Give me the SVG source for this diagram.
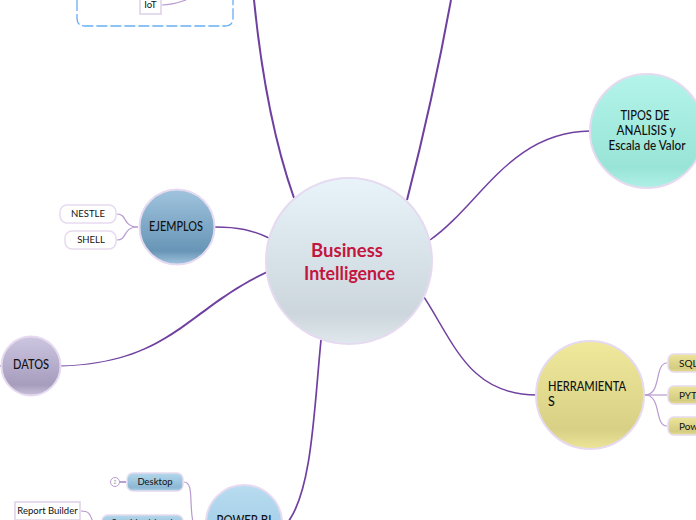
<svg xmlns="http://www.w3.org/2000/svg" width="696" height="520" viewBox="0 0 696 520">
<defs>
<linearGradient id="gC" x1="0" y1="0" x2="0" y2="1"><stop offset="0" stop-color="#e8f4fa"/><stop offset=".82" stop-color="#ccd6dc"/><stop offset="1" stop-color="#e0e8ec"/></linearGradient>
<linearGradient id="gE" x1="0" y1="0" x2="0" y2="1"><stop offset="0" stop-color="#a0c4de"/><stop offset=".82" stop-color="#6895b6"/><stop offset="1" stop-color="#a0c4de"/></linearGradient>
<linearGradient id="gD" x1="0" y1="0" x2="0" y2="1"><stop offset="0" stop-color="#cdc6e0"/><stop offset=".82" stop-color="#a69dbd"/><stop offset="1" stop-color="#c8c1da"/></linearGradient>
<linearGradient id="gH" x1="0" y1="0" x2="0" y2="1"><stop offset="0" stop-color="#f0e99c"/><stop offset=".82" stop-color="#d8d084"/><stop offset="1" stop-color="#ece59a"/></linearGradient>
<linearGradient id="gT" x1="0" y1="0" x2="0" y2="1"><stop offset="0" stop-color="#b4f4ea"/><stop offset=".82" stop-color="#98e4d6"/><stop offset="1" stop-color="#b0f0e6"/></linearGradient>
<linearGradient id="gP" x1="0" y1="0" x2="0" y2="1"><stop offset="0" stop-color="#b8dcf0"/><stop offset="1" stop-color="#98c6e2"/></linearGradient>
<linearGradient id="gB" x1="0" y1="0" x2="0" y2="1"><stop offset="0" stop-color="#b4d8ec"/><stop offset=".8" stop-color="#8cb8d4"/><stop offset="1" stop-color="#acd0e6"/></linearGradient>
<linearGradient id="gY" x1="0" y1="0" x2="0" y2="1"><stop offset="0" stop-color="#ece59a"/><stop offset=".8" stop-color="#d4cc80"/><stop offset="1" stop-color="#e6df94"/></linearGradient>
</defs>
<style>
text{font-family:Lato,"Noto Sans","Liberation Sans",sans-serif;fill:#111;text-anchor:middle}
.main{fill:none;stroke:#7040a0}
.taper{fill:#7040a0;stroke:none}
.sub{fill:none;stroke:#b79ad0;stroke-width:1.2}
.circ{stroke:#e6daf0;stroke-width:2}
.pill{fill:#fff;stroke:#e6daf0;stroke-width:1.5}
.blue{fill:url(#gB);stroke:#e6daf0;stroke-width:1.5}
.yel{fill:url(#gY);stroke:#e6daf0;stroke-width:1.5}
.t12{font-size:12.5px;font-weight:500}.t10{font-size:10px}.t9{font-size:9.5px}
.s{text-anchor:start}
.red{font-size:18.5px;font-weight:700;fill:#c4153f}
</style>
<g id="connectors">
<path class="main" stroke-width="2" d="M254 0C260 60 270 130 294 198"/>
<path class="main" stroke-width="2" d="M451 0C440 60 425 130 407 200"/>
<path class="main" stroke-width="1.500" d="M430 240C480 205 510 132 590 131"/>
<path class="main" stroke-width="1.400" d="M424 297C455 345 470 395 537 395"/>
<path class="main" stroke-width="1.400" d="M215 227C238 227 252 230 269 238"/>
<path class="taper" d="M61 365.500C170 362 185 309.500 266 271.500V273.500C187 311.500 172 363 61 366.500Z"/>
<path class="main" stroke-width="1.700" d="M321 340C314 410 312 490 288 522"/>
<path class="sub" d="M117 214C128 214 122 227 138 227"/>
<path class="sub" d="M117 240C128 240 122 227 138 227"/>
<path class="sub" d="M645 395C662 395 654 363 667 363"/>
<path class="sub" d="M645 395H667"/>
<path class="sub" d="M645 395C662 395 654 426 667 426"/>
<path class="sub" d="M184 482C194 482 189 505 193 522"/>
<path class="sub" d="M81 511C90 511 90 515 93 522"/>
<path class="sub" d="M162 5C172 5 180 2 186 0"/>
<path class="main" stroke-width="1" d="M120 482H126"/>
<path class="main" stroke-width="1" d="M0 366H2"/>
</g>
<g id="iot-group"><path fill="none" stroke="#68aef5" stroke-width="1.300" stroke-dasharray="11 3" d="M77 0V18Q77 26 85 26H225Q233 26 233 18V0"/></g>
<g id="iot"><rect x="140" y="-4" width="21" height="18" fill="#fff" stroke="#ddd0e6" stroke-width="1.500"/><text class="t9" x="150.500" y="8">IoT</text></g>
<g id="central"><circle class="circ" cx="349" cy="261" r="83" fill="url(#gC)"/><text class="red" x="347" y="257">Business</text><text class="red" x="349.500" y="280" textLength="91" lengthAdjust="spacingAndGlyphs">Intelligence</text></g>
<g id="tipos"><circle class="circ" cx="647" cy="131" r="57" fill="url(#gT)"/><text class="t12" x="645" y="120" textLength="49" lengthAdjust="spacingAndGlyphs">TIPOS DE</text><text class="t12" x="646" y="135" textLength="59" lengthAdjust="spacingAndGlyphs">ANALISIS y</text><text class="t12" x="647" y="150" textLength="77" lengthAdjust="spacingAndGlyphs">Escala de Valor</text></g>
<g id="herramientas"><circle class="circ" cx="590" cy="395" r="54" fill="url(#gH)"/><text class="t12 s" x="548" y="391" textLength="78" lengthAdjust="spacingAndGlyphs">HERRAMIENTA</text><text class="t12 s" x="548" y="406">S</text></g>
<g id="sql"><rect class="yel" x="668" y="354" width="40" height="18" rx="6"/><text class="t10 s" x="679" y="367">SQL</text></g>
<g id="pyt"><rect class="yel" x="668" y="386" width="40" height="18" rx="6"/><text class="t10 s" x="679" y="399">PYTHON</text></g>
<g id="pow"><rect class="yel" x="668" y="417" width="40" height="18" rx="6"/><text class="t10 s" x="679" y="430">Power</text></g>
<g id="ejemplos"><circle class="circ" cx="177" cy="227" r="37.500" fill="url(#gE)"/><text class="t12" x="176" y="231" textLength="54" lengthAdjust="spacingAndGlyphs">EJEMPLOS</text></g>
<g id="nestle"><rect class="pill" x="60" y="205" width="56" height="18" rx="7"/><text class="t9" x="88" y="217">NESTLE</text></g>
<g id="shell"><rect class="pill" x="65" y="231" width="51" height="18" rx="7"/><text class="t9" x="91" y="243">SHELL</text></g>
<g id="datos"><circle class="circ" cx="31" cy="366" r="29.500" fill="url(#gD)"/><text class="t12" x="31" y="369" textLength="36" lengthAdjust="spacingAndGlyphs">DATOS</text></g>
<g id="powerbi"><circle class="circ" cx="244" cy="523" r="38" fill="url(#gP)"/><text class="t12" x="244" y="525" textLength="55" lengthAdjust="spacingAndGlyphs">POWER BI</text></g>
<g id="desktop"><rect class="blue" x="127" y="473" width="56" height="18" rx="6"/><text class="t9" x="155" y="485">Desktop</text></g>
<g id="badge"><circle cx="115" cy="482" r="4.500" fill="#fff" stroke="#b79ad0"/><text x="115" y="484" font-size="5" style="fill:#999">2</text></g>
<g id="servidor"><rect class="blue" x="102" y="515" width="81" height="18" rx="6"/><text class="t9" x="142" y="526">Servidor/cloud</text></g>
<g id="report"><rect x="15" y="502" width="65" height="18" fill="#fff" stroke="#ddd0e6" stroke-width="1.500"/><text class="t9" x="47.500" y="514">Report Builder</text></g>
</svg>
